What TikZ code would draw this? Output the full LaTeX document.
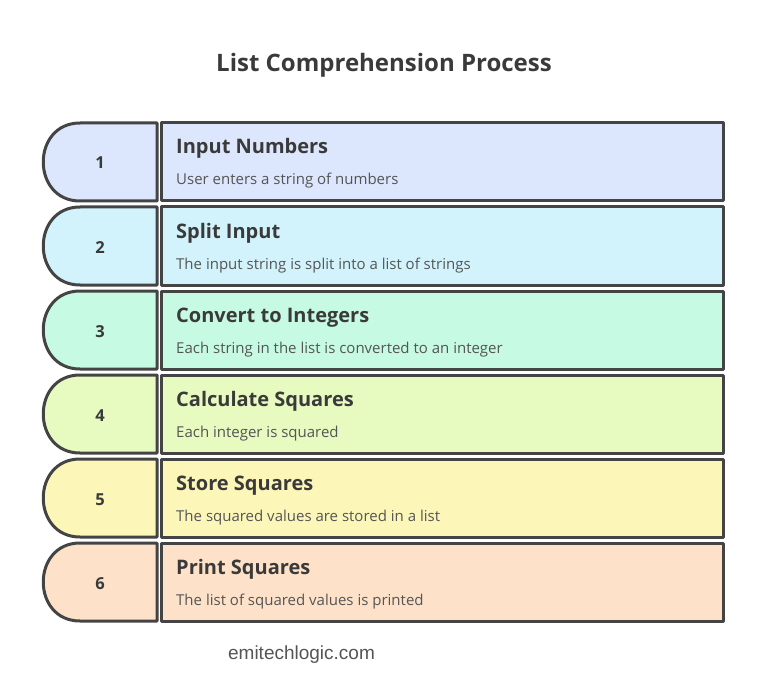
\documentclass[tikz,border=0pt]{standalone}
\usepackage{fontspec}
\setmainfont{Open Sans}
\newfontfamily\footfont{Liberation Sans}
\definecolor{ink}{HTML}{444444}
\definecolor{headc}{HTML}{3A3A3A}
\definecolor{descc}{HTML}{555555}
\definecolor{cA}{HTML}{DCE6FC}
\definecolor{cB}{HTML}{D3F3FC}
\definecolor{cC}{HTML}{C6FAE2}
\definecolor{cD}{HTML}{E7FABF}
\definecolor{cE}{HTML}{FDF6B9}
\definecolor{cF}{HTML}{FDE2C9}
\tikzset{
  outl/.style={draw=ink, line width=3pt, line join=round},
  numtxt/.style={font=\bfseries\fontsize{16.5}{18}\selectfont, text=headc, anchor=base, inner sep=0pt},
  headtxt/.style={font=\bfseries\fontsize{20}{22}\selectfont, text=headc, anchor=base west, inner sep=0pt},
  desctxt/.style={font=\fontsize{15}{17}\selectfont, text=descc, anchor=base west, inner sep=0pt},
}
\begin{document}
\begin{tikzpicture}[x=1pt,y=-1pt]
\useasboundingbox (0,0) rectangle (768,679);
\node[font=\bfseries\fontsize{24}{28}\selectfont, text=headc, anchor=base, inner sep=0pt] (title) at (384,72) {List Comprehension Process};
\foreach \i/\col/\hd/\ds in {
  1/cA/Input Numbers/User enters a string of numbers,
  2/cB/Split Input/The input string is split into a list of strings,
  3/cC/Convert to Integers/Each string in the list is converted to an integer,
  4/cD/Calculate Squares/Each integer is squared,
  5/cE/Store Squares/The squared values are stored in a list,
  6/cF/Print Squares/The list of squared values is printed}{
  \pgfmathsetmacro{\t}{123+84*(\i-1)}
  \pgfmathsetmacro{\b}{\t+78}
  \pgfmathsetmacro{\m}{\t+39}
  \path[outl, fill=\col] (157,\t) -- (80,\t) .. controls (31,\t) and (31,\b) .. (80,\b) -- (157,\b) -- cycle;
  \path[outl, fill=\col] (161,\t) rectangle (723,\b);
  \node[numtxt] (n\i) at (100,\m+7) {\i};
  \node[headtxt] (h\i) at (176,\t+31) {\hd};
  \node[desctxt] (d\i) at (176,\t+62) {\ds};
}
\node[font=\footfont\fontsize{19}{22}\selectfont, text=descc, anchor=base, inner sep=0pt] (foot) at (301.5,659) {emitechlogic.com};
\end{tikzpicture}
\end{document}
